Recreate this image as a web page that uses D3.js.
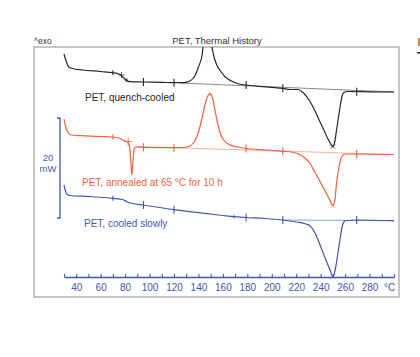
<!DOCTYPE html>
<html><head><meta charset="utf-8">
<script src="https://cdn.jsdelivr.net/npm/d3@7"></script>
<style>body{margin:0;background:#fff;}svg{display:block;font-family:"Liberation Sans",Arial,sans-serif;}</style>
</head><body>
<svg id="c" width="420" height="357"></svg>
<script>
// ---- data (temperature in °C, heat flow in mW, exo up, curves offset) ----
const quenchT = [30,32,34,37,45,60,70,75,78,81,84,95,110,120,128,133,137,140,143,145,147,148.5,150,151.5,153,155,158,162,167,172,179,190,200,209,215,221,226,231,235,239.5,243,246,248,250,251.5,253,254.5,256,257.5,259,262,280,300];
const quenchV = [8.6,7.0,6.0,5.7,5.4,5.1,4.86,4.6,4.0,3.3,3.06,3.0,2.94,2.86,2.88,3.2,4.2,6.0,8.4,12.8,14.4,14.0,11.8,9.4,7.8,6.4,5.2,4.0,3.2,2.7,2.4,2.14,1.94,1.74,1.5,1.5,0.8,-0.8,-2.6,-5.0,-6.8,-8.4,-9.3,-9.9,-9.0,-6.6,-4.2,-1.8,0.2,0.9,1.1,1.04,1.0];

const annealT = [30,31,33,36,45,60,70,75,78,80,82,83.5,84.5,85.5,86.5,87.5,89,95,120,128,133,137,140,143,145.5,147.5,149.5,151.5,153.5,156,158,161,165,172,179,195,209,216,221,226,231,235,239.5,243,246,248,250,251.5,253,255,257,260,265,300];
const annealV = [-4.4,-5.6,-7.0,-7.6,-7.74,-7.9,-8.0,-8.2,-8.6,-8.8,-9.0,-9.6,-12.2,-15.6,-12.6,-10.4,-10.0,-10.06,-10.14,-10.1,-9.8,-8.8,-7.0,-4.2,-1.4,0.2,0.6,-0.2,-2.6,-5.6,-7.4,-8.7,-9.5,-10.0,-10.3,-10.6,-10.86,-11.0,-11.3,-12.0,-13.2,-14.9,-16.9,-18.5,-19.9,-20.9,-21.7,-20.8,-17.2,-14.0,-12.0,-11.4,-11.4,-11.5];

const slowT = [30,31,32.5,35,50,70,78,82,86,95,120,140,160,169,179,195,209,220,228,231,235.4,239.5,243,246.3,248,250,251.5,253,254.5,256,257.5,259,261,270,300];
const slowV = [-17.6,-18.6,-19.5,-19.7,-19.9,-20.26,-20.5,-21.0,-21.3,-21.6,-22.54,-23.14,-23.7,-23.94,-24.1,-24.3,-24.6,-25.0,-25.4,-25.7,-27.2,-29.6,-31.8,-33.8,-34.8,-35.9,-35.0,-33.0,-30.6,-28.2,-26.0,-25.0,-24.7,-24.6,-24.74];

// integration baselines [T start, V start, T end, V end]
const quenchBase = [125, 2.8, 300, 1.0];
const annealBase = [88, -9.9, 300, -11.5];
const slowBase   = [209, -24.6, 300, -24.74];

const markTemps = [70, 95, 120, 179, 209, 269.5];
const peakTemps = [250];
const xTicks = d3.range(30, 301, 10);
const labelTicks = [40,60,80,100,120,140,160,180,200,220,240,260,280];
const curveLabels = ["PET, quench-cooled", "PET, annealed at 65 °C for 10 h", "PET, cooled slowly"];
const titleText = "PET, Thermal History";
const scaleBarMW = 20;

// ---- drawing ----
const svg = d3.select("#c");
const frame = {x0: 34, y0: 47, x1: 399, y1: 297};
const x = d3.scaleLinear().domain([30, 300]).range([64, 394]);
const y = d3.scaleLinear().domain([10, -36]).range([47, 277]);

const black = "#262626", red = "#f2603f", blue = "#3f58a8";

svg.append("defs").append("clipPath").attr("id","clip")
  .append("rect").attr("x",frame.x0).attr("y",frame.y0)
  .attr("width",frame.x1-frame.x0).attr("height",frame.y1-frame.y0);

svg.append("rect").attr("x",frame.x0).attr("y",frame.y0)
  .attr("width",frame.x1-frame.x0).attr("height",frame.y1-frame.y0)
  .attr("fill","none").attr("stroke","#a8a8a8").attr("stroke-width",1.3);

svg.append("text").attr("x",217).attr("y",44).attr("text-anchor","middle")
  .attr("font-size",9.5).attr("fill","#333").text(titleText);
svg.append("text").attr("x",34).attr("y",44).attr("font-size",8.5).attr("fill","#333").text("^exo");

// small marks at top right edge
svg.append("rect").attr("x",418).attr("y",38).attr("width",2).attr("height",8).attr("fill","#d9822b");
svg.append("rect").attr("x",417).attr("y",52).attr("width",3).attr("height",1.5).attr("fill","#333");

const g = svg.append("g").attr("clip-path","url(#clip)");
const line = d3.line().x(d=>x(d[0])).y(d=>y(d[1])).curve(d3.curveMonotoneX);

function interp(T, V, t){
  const i = Math.max(1, d3.bisectLeft(T, t));
  const a = i-1, b = Math.min(i, T.length-1);
  if (a===b) return V[a];
  const f = (t-T[a])/(T[b]-T[a]);
  return V[a] + f*(V[b]-V[a]);
}

function drawCurve(T, V, base, color, baseColor){
  g.append("line").attr("x1",x(base[0])).attr("y1",y(base[1]))
    .attr("x2",x(base[2])).attr("y2",y(base[3]))
    .attr("stroke",baseColor).attr("stroke-width",1);
  g.append("path").datum(T.map((t,i)=>[t,V[i]]))
    .attr("d",line).attr("fill","none").attr("stroke",color).attr("stroke-width",1.2);
  markTemps.forEach((t,i)=>{
    const h = i===0 ? 2.5 : 4;
    const yy = y(interp(T,V,t));
    g.append("line").attr("x1",x(t)).attr("x2",x(t)).attr("y1",yy-h).attr("y2",yy+h)
      .attr("stroke",color).attr("stroke-width",1.1);
  });
  peakTemps.forEach(t=>{
    const xx = x(t), yy = y(interp(T,V,t));
    g.append("path").attr("d",`M${xx-2},${yy-2}L${xx+2},${yy+2}M${xx-2},${yy+2}L${xx+2},${yy-2}`)
      .attr("stroke",color).attr("stroke-width",0.8);
  });
}

drawCurve(quenchT, quenchV, quenchBase, black, "#8a8a8a");
drawCurve(annealT, annealV, annealBase, red, "#f7b3a3");
drawCurve(slowT, slowV, slowBase, blue, "#8fa0d4");

// glass transition cross marks
function cross(t, v, color, s){
  const xx = x(t), yy = y(v);
  g.append("path").attr("d",`M${xx-s},${yy}L${xx+s},${yy}M${xx},${yy-s}L${xx},${yy+s}`)
    .attr("stroke",color).attr("stroke-width",0.8);
}
cross(77, 4.4, black, 3);
cross(81, 3.4, black, 2);
cross(82.5, -8.9, red, 4);
cross(169, -23.94, blue, 2);
cross(149.5, 0.6, red, 1.5);

// curve labels
svg.append("text").attr("x",85).attr("y",101).attr("font-size",10).attr("fill",black).text(curveLabels[0]);
svg.append("text").attr("x",82).attr("y",186).attr("font-size",10).attr("fill",red).text(curveLabels[1]);
svg.append("text").attr("x",84).attr("y",227).attr("font-size",10).attr("fill",blue).text(curveLabels[2]);

// scale bar (20 mW)
const sbTop = 118;
const sb = svg.append("g").attr("stroke",blue).attr("stroke-width",1.3).attr("fill","none");
const sbLen = y(-scaleBarMW) - y(0);
sb.append("path").attr("d",`M57,${sbTop}H60V${sbTop+sbLen}H57`);
svg.append("text").attr("x",48).attr("y",161).attr("text-anchor","middle").attr("font-size",9.5).attr("fill",blue).text("20");
svg.append("text").attr("x",48).attr("y",172).attr("text-anchor","middle").attr("font-size",9.5).attr("fill",blue).text("mW");

// x axis
const axis = d3.axisTop(x).tickValues(xTicks).tickSize(3).tickSizeOuter(0)
  .tickFormat(d => d===300 ? "°C" : (labelTicks.includes(d) ? d : ""));
const ax = svg.append("g").attr("transform","translate(0,277)").call(axis);
ax.select(".domain").attr("stroke",blue).attr("stroke-width",1.3);
ax.selectAll(".tick line").attr("stroke",blue).attr("stroke-width",1.1);
ax.selectAll(".tick text").attr("fill",blue).attr("font-size",10)
  .attr("font-family","'Liberation Sans',Arial,sans-serif").attr("y",14).attr("dy","0")
  .attr("dx", d => d===300 ? -5 : 0);
</script>
</body></html>
